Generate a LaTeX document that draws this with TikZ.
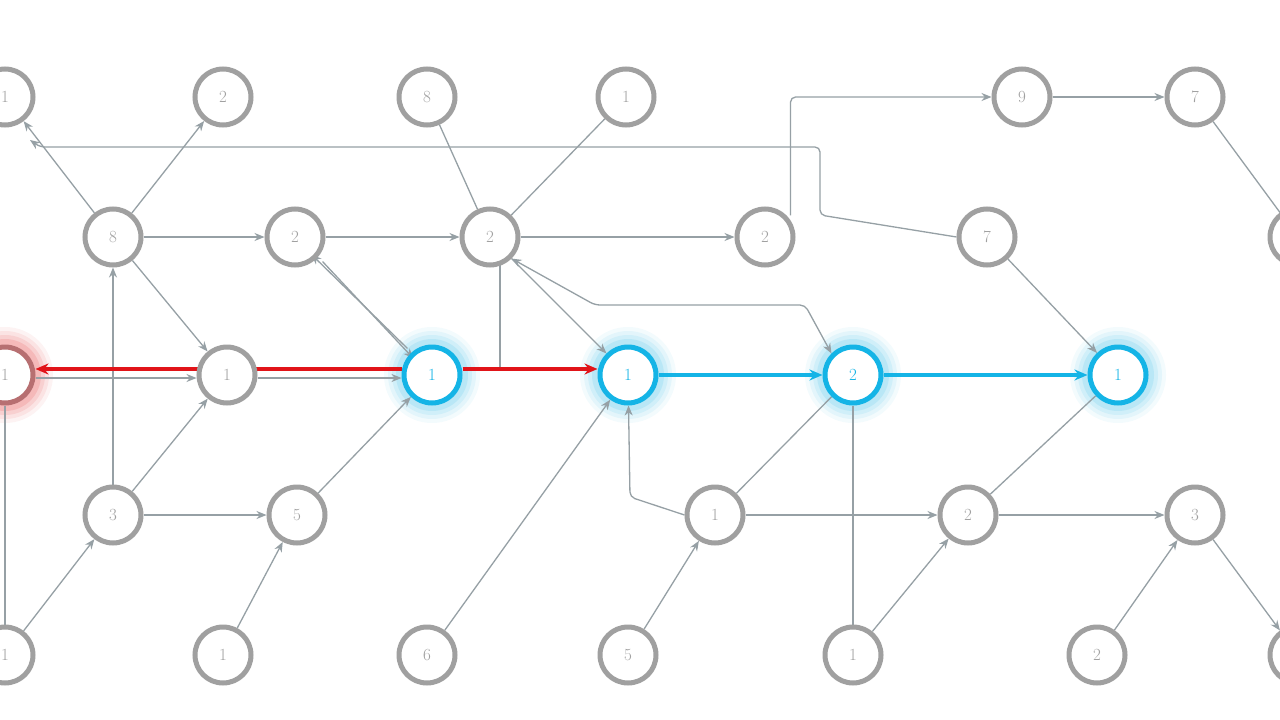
\documentclass[tikz,border=0pt]{standalone}
\usetikzlibrary{arrows.meta}
\definecolor{g}{RGB}{160,160,160}
\definecolor{eg}{RGB}{150,160,165}
\definecolor{bl}{RGB}{20,180,230}
\definecolor{rd}{RGB}{225,20,25}
\pgfdeclarelayer{bg}
\pgfsetlayers{bg,main}
\begin{document}
\begin{tikzpicture}[x=1pt,y=-1pt,
 nd/.style={circle,draw=g,line width=5pt,minimum size=56pt,inner sep=0pt,fill=white,text=g,font=\fontsize{17}{19}\selectfont},
 bn/.style={nd,draw=bl,text=bl},
 ed/.style={draw=eg,line width=1.3pt,-{Stealth[length=10pt,width=8pt]}},
 ln/.style={draw=eg,line width=1.3pt},
 be/.style={draw=bl,line width=3.5pt,-{Stealth[length=13pt,width=11pt]}},
 re/.style={draw=rd,line width=3.5pt,-{Stealth[length=13pt,width=11pt]}}]
\useasboundingbox (0,0) rectangle (1280,720);
\begin{pgfonlayer}{bg}
\fill[white] (0,0) rectangle (1280,720);
\foreach \p/\c in {{(432,375)}/bl,{(628,375)}/bl,{(853,375)}/bl,{(1118,375)}/bl,{(5,375)}/rd}{
 \foreach \r/\o in {48/0.05,44/0.07,40/0.09,36/0.12}{\fill[\c,opacity=\o] \p circle (\r);}}
\end{pgfonlayer}
\node[nd] (A1) at (5,97) {1};
\node[nd] (A2) at (223,97) {2};
\node[nd] (A3) at (427,97) {8};
\node[nd] (A4) at (626,97) {1};
\node[nd] (A5) at (1022,97) {9};
\node[nd] (A6) at (1195,97) {7};
\node[nd] (B1) at (113,237) {8};
\node[nd] (B2) at (295,237) {2};
\node[nd] (B3) at (490,237) {2};
\node[nd] (B4) at (765,237) {2};
\node[nd] (B5) at (987,237) {7};
\node[nd] (B6) at (1298,237) {};
\node[nd,draw=rd!35!g] (C1) at (5,375) {1};
\node[nd] (C2) at (227,375) {1};
\node[bn] (C3) at (432,375) {1};
\node[bn] (C4) at (628,375) {1};
\node[bn] (C5) at (853,375) {2};
\node[bn] (C6) at (1118,375) {1};
\node[nd] (D1) at (113,515) {3};
\node[nd] (D2) at (297,515) {5};
\node[nd] (D3) at (715,515) {1};
\node[nd] (D4) at (968,515) {2};
\node[nd] (D5) at (1195,515) {3};
\node[nd] (E1) at (5,655) {1};
\node[nd] (E2) at (223,655) {1};
\node[nd] (E3) at (427,655) {6};
\node[nd] (E4) at (628,655) {5};
\node[nd] (E5) at (853,655) {1};
\node[nd] (E6) at (1097,655) {2};
\node[nd] (E7) at (1298,655) {};
\begin{pgfonlayer}{bg}
\draw[ed] (B1) -- (A1);
\draw[ed] (B1) -- (A2);
\draw[ed] (B1) -- (B2);
\draw[ed] (B1) -- (C2);
\draw[ed,rounded corners=5pt] (B5.west) -- (820,215) -- (820,147) -- (40,147) -- (30,140);
\draw[ed,rounded corners=5pt] ([xshift=4pt]B4.north east) |- (A5.west);
\draw[ed] (A5) -- (A6);
\draw[ln] (A6) -- (B6);
\draw[ln] (A3) -- (B3);
\draw[ln] (A4) -- (B3);
\draw[ed] (B2) -- (B3);
\draw[ed] (B3) -- (B4);
\draw[ed] ([shift={(6pt,-3pt)}]B2.south east) -- ([shift={(3pt,-5pt)}]C3.north west);
\draw[ed] ([shift={(-3pt,5pt)}]C3.north west) -- ([shift={(-5pt,4pt)}]B2.south east);
\draw[ed] (B3) -- (C4);
\draw[ed,rounded corners=5pt,{Stealth[length=10pt,width=8pt]}-{Stealth[length=10pt,width=8pt]}] (B3.south east) -- (595,305) -- (805,305) -- (C5.north west);
\draw[ln] (500,265) -- (500,370);
\draw[ed] (B5) -- (C6);
\draw[ed] ([yshift=-3pt]C1.east) -- ([yshift=-3pt]C2.west);
\draw[ed] ([yshift=-3pt]C2.east) -- ([yshift=-3pt]C3.west);
\draw[ed] (D1) -- (B1);
\draw[ed] (D1) -- (C2);
\draw[ed] (D1) -- (D2);
\draw[ed] (D2) -- (C3);
\draw[ed] (E1) -- (D1);
\draw[ed] (E2) -- (D2);
\draw[ed] (E3) -- (C4);
\draw[ed] (E4) -- (D3);
\draw[ed] (E5) -- (D4);
\draw[ln] (E5) -- (C5);
\draw[ln] (D3) -- (C5);
\draw[ed,rounded corners=5pt] (D3.west) -- (630,497) -- (C4);
\draw[ed] (D3) -- (D4);
\draw[ln] (D4) -- (C6);
\draw[ed] (D4) -- (D5);
\draw[ed] (E6) -- (D5);
\draw[ed] (D5) -- (E7);
\draw[ln] (C1) -- (E1);
\draw[re] ([yshift=6pt]C3.west) -- ([yshift=6pt]C1.east);
\draw[re] ([yshift=6pt]C3.east) -- ([yshift=6pt]C4.west);
\draw[be] (C4) -- (C5);
\draw[be] (C5) -- (C6);
\end{pgfonlayer}
\end{tikzpicture}
\end{document}
